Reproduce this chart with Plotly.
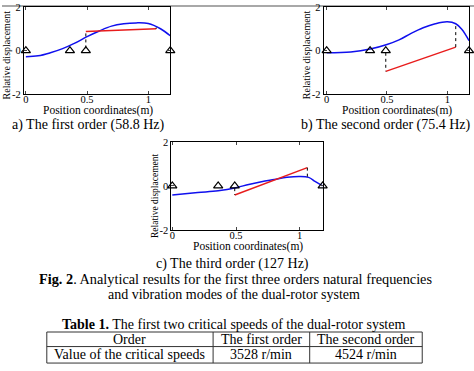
import plotly.graph_objects as go

W, H = 474, 371
FONT = "Liberation Serif"

# ---- data ----
bearings_x = [0.0, 0.36, 0.49, 1.18]
bearings_y = [0.0, 0.0, 0.0, 0.0]

a_x = [0.0, 0.1, 0.2, 0.3, 0.4, 0.5, 0.6, 0.7, 0.8, 0.9, 1.0, 1.1, 1.18]
a_y = [-0.28, -0.24, -0.1, 0.09, 0.34, 0.64, 0.9, 1.12, 1.23, 1.27, 1.24, 1.0, 0.68]
a_red_x = [0.49, 1.065]
a_red_y = [0.87, 1.0]
a_dot1_y = [0.1, 0.87]
a_dot2_y = [1.0, 1.06]

b_x = [0.0, 0.2, 0.36, 0.5, 0.6, 0.7, 0.8, 0.9, 1.0, 1.07, 1.12, 1.18]
b_y = [-0.1, -0.06, 0.07, 0.28, 0.49, 0.79, 1.05, 1.23, 1.32, 1.23, 0.98, 0.46]
b_red_x = [0.49, 1.07]
b_red_y = [-0.95, 0.16]
b_dot1_y = [-0.1, -0.95]
b_dot2_y = [0.16, 1.23]

c_x = [0.0, 0.2, 0.36, 0.5, 0.6, 0.7, 0.8, 0.9, 1.0, 1.07, 1.12, 1.18]
c_y = [-0.41, -0.3, -0.22, -0.08, 0.07, 0.19, 0.29, 0.39, 0.43, 0.39, 0.21, 0.0]
c_red_x = [0.49, 1.06]
c_red_y = [-0.41, 0.83]
c_dot1_y = [-0.1, -0.41]
c_dot2_y = [0.83, 0.4]

x_ticks = [0, 0.5, 1]
x_tick_labels = ["0", "0.5", "1"]
y_ticks = [-2, 0, 2]
y_tick_labels = ["-2", "0", "2"]

captions = ["a) The first order (58.8 Hz)",
            "b) The second order (75.4 Hz)",
            "c) The third order (127 Hz)"]
x_title = "Position coordinates(m)"
y_title = "Relative displacement"

fig_caption_1 = "<b>Fig. 2</b>. Analytical results for the first three orders natural frequencies"
fig_caption_2 = "and vibration modes of the dual-rotor system"
table_title = "<b>Table 1.</b> The first two critical speeds of the dual-rotor system"
table_header = ["Order", "The first order", "The second order"]
table_row = ["Value of the critical speeds", "3528 r/min", "4524 r/min"]

# ---- layout helpers ----
def px(x):
    return x / W

def py(y):
    return 1 - y / H

BLUE = "#1010ee"
RED = "#e81c1c"

panels = [
    dict(bx=a_x, by=a_y, rx=a_red_x, ry=a_red_y, d1=a_dot1_y, d2=a_dot2_y,
         dom_x=[22, 169], dom_y=[2, 92], xr=[-0.016, 1.18], yt_dy=4, yt_size=10),
    dict(bx=b_x, by=b_y, rx=b_red_x, ry=b_red_y, d1=b_dot1_y, d2=b_dot2_y,
         dom_x=[323, 469], dom_y=[2, 92], xr=[-0.025, 1.18], yt_dy=4, yt_size=10),
    dict(bx=c_x, by=c_y, rx=c_red_x, ry=c_red_y, d1=c_dot1_y, d2=c_dot2_y,
         dom_x=[170, 322], dom_y=[141, 232], xr=[-0.008, 1.18], yt_dy=10, yt_size=9.5),
]

fig = go.Figure()
layout = dict(width=W, height=H, margin=dict(l=0, r=0, t=0, b=0),
              paper_bgcolor="white", plot_bgcolor="white", showlegend=False,
              font=dict(family=FONT, color="black"))

annotations = []
shapes = []


def note(x, y, text, size, angle=0):
    annotations.append(dict(x=px(x), y=py(y), xref="paper", yref="paper", text=text,
                            xanchor="center", yanchor="middle", textangle=angle,
                            showarrow=False, font=dict(size=size, family=FONT, color="black")))


for i, p in enumerate(panels):
    n = "" if i == 0 else str(i + 1)
    xa, ya = "x" + n, "y" + n
    fig.add_trace(go.Scatter(x=p["bx"], y=p["by"], mode="lines", line=dict(color=BLUE, width=1.5, shape="spline"),
                             xaxis=xa, yaxis=ya))
    fig.add_trace(go.Scatter(x=p["rx"], y=p["ry"], mode="lines", line=dict(color=RED, width=1.5),
                             xaxis=xa, yaxis=ya))
    fig.add_trace(go.Scatter(x=[p["rx"][0]] * 2, y=p["d1"], mode="lines", line=dict(color="black", width=1, dash="dot"),
                             xaxis=xa, yaxis=ya))
    fig.add_trace(go.Scatter(x=[p["rx"][1]] * 2, y=p["d2"], mode="lines", line=dict(color="black", width=1, dash="dot"),
                             xaxis=xa, yaxis=ya))
    fig.add_trace(go.Scatter(x=bearings_x, y=bearings_y, mode="markers", cliponaxis=False,
                             marker=dict(symbol="triangle-up-open", size=8, color="black", line=dict(width=1.2)),
                             xaxis=xa, yaxis=ya))
    layout["xaxis" + n] = dict(domain=[px(p["dom_x"][0]), px(p["dom_x"][1])], range=p["xr"], anchor=ya,
                               tickvals=x_ticks, ticktext=x_tick_labels, ticks="inside", ticklen=3,
                               ticklabelstandoff=-5,
                               showline=True, linecolor="black", linewidth=1, mirror="ticks",
                               showgrid=False, zeroline=False, tickfont=dict(size=10.5, family=FONT, color="black"))
    layout["yaxis" + n] = dict(domain=[py(p["dom_y"][1]), py(p["dom_y"][0])], range=[-2, 2], anchor=xa,
                               tickvals=y_ticks, ticktext=y_tick_labels, ticks="inside", ticklen=3,
                               showline=True, linecolor="black", linewidth=1, mirror="ticks",
                               showgrid=False, zeroline=False, tickfont=dict(size=10.5, family=FONT, color="black"))
    cx = (p["dom_x"][0] + p["dom_x"][1]) / 2
    bottom = p["dom_y"][1]
    mid = (p["dom_y"][0] + p["dom_y"][1]) / 2
    note(cx + 1, bottom + 17, x_title, 11.5)
    note(p["dom_x"][0] - 17, mid + p["yt_dy"], y_title, p["yt_size"], angle=-90)

cap_pos = [(86, 124), (386, 124), (231, 267)]
for t, (cx, cy) in zip(captions, cap_pos):
    note(cx, cy, t, 14)

note(234, 282, fig_caption_1, 14.3)
note(233, 298, fig_caption_2, 14)
note(232, 329, table_title, 14)

# table
col_edges = [45, 212, 309, 422]
row_edges = [337, 352, 369]
for yv in row_edges:
    shapes.append(dict(type="line", xref="paper", yref="paper", x0=px(col_edges[0]), x1=px(col_edges[-1]),
                       y0=py(yv), y1=py(yv), line=dict(color="#333333", width=1)))
for xv in col_edges:
    shapes.append(dict(type="line", xref="paper", yref="paper", x0=px(xv), x1=px(xv),
                       y0=py(row_edges[0]), y1=py(row_edges[-1]), line=dict(color="#333333", width=1)))
for r, row in enumerate([table_header, table_row]):
    ymid = (row_edges[r] + row_edges[r + 1]) / 2
    for c, txt in enumerate(row):
        xmid = (col_edges[c] + col_edges[c + 1]) / 2
        note(xmid, ymid, txt, 14)

# gray strip at the top
shapes.append(dict(type="rect", xref="paper", yref="paper", x0=0, x1=1, y0=py(2), y1=1,
                   fillcolor="#a8a8a8", line=dict(width=0), layer="below"))

layout["annotations"] = annotations
layout["shapes"] = shapes
fig.update_layout(**layout)
fig.write_html("out.html", config={"displayModeBar": False},
               post_script="document.body.style.margin='0';document.body.style.overflow='hidden';")
